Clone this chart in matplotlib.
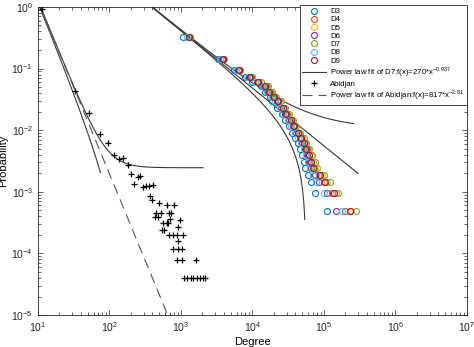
import matplotlib
matplotlib.use("Agg")
import matplotlib.pyplot as plt
import numpy as np

plt.rcParams['font.family'] = ['Liberation Sans', 'DejaVu Sans']
plt.rcParams['mathtext.fontset'] = 'custom'
plt.rcParams['mathtext.rm'] = 'Liberation Sans'

# shared probability levels of the D-series
prob_d = [0.33, 0.145, 0.095, 0.073, 0.060, 0.052, 0.042, 0.035, 0.030, 0.023,
          0.018, 0.0145, 0.0115, 0.009, 0.0075, 0.0062, 0.0050, 0.0040, 0.0031,
          0.0024, 0.00187, 0.00146, 0.00097, 0.00049]

deg_d3 = [1060, 3350, 5600, 8000, 10000, 13000, 15000, 17500, 18800, 22000, 26000, 29000,
          33000, 36000, 40000, 44000, 47000, 50000, 52000, 55000, 60000, 65000, 76000, 110000]
deg_d4 = [1350, 3900, 6500, 9500, 12000, 15500, 17500, 20000, 23000, 27000, 30000, 35000,
          39000, 43000, 48000, 53000, 58000, 62000, 66000, 72000, 85000, 100000, 130000, 200000]
deg_d5 = [1300, 3800, 6700, 9800, 12500, 16000, 18000, 21000, 24000, 28000, 31000, 36000,
          40000, 45000, 50000, 55000, 60000, 65000, 70000, 76000, 95000, 110000, 150000, 240000]
deg_d6 = [1280, 3700, 6200, 9000, 11500, 14500, 16500, 19500, 22000, 25500, 28500, 33000,
          37000, 41000, 46000, 50000, 54000, 58000, 62000, 66000, 75000, 85000, 110000, 150000]
deg_d7 = [1320, 4000, 6800, 10000, 13000, 16500, 18500, 21500, 25000, 29000, 32000, 37000,
          41000, 46000, 52000, 57000, 62000, 68000, 74000, 80000, 100000, 120000, 160000, 280000]
deg_d8 = [1200, 3500, 5900, 8500, 10800, 14000, 15800, 18500, 20500, 24000, 27000, 31000,
          35000, 39000, 44000, 48000, 52000, 56000, 60000, 64000, 70000, 78000, 100000, 180000]
deg_d9 = [1300, 3900, 6400, 9400, 11800, 15200, 17000, 20000, 22500, 26500, 29500, 34500,
          38000, 43000, 48000, 52000, 57000, 61000, 66000, 71000, 88000, 105000, 140000, 230000]

series_names = ['D3', 'D4', 'D5', 'D6', 'D7', 'D8', 'D9']
series_deg = [deg_d3, deg_d4, deg_d5, deg_d6, deg_d7, deg_d8, deg_d9]
series_colors = ['#0072BD', '#D95319', '#EDB120', '#7E2F8E', '#77AC30', '#4DBEEE', '#A2142F']

# Abidjan degree distribution
abidjan_deg = [11.5, 33, 52, 74, 95, 117, 137, 157, 180, 200, 221, 249, 268, 292, 326, 362,
               412, 371, 391, 500, 634, 811, 450, 528, 690, 720, 436, 484, 706, 975,
               557, 634, 668, 540, 580, 923, 690, 786, 877, 1084, 923, 786, 904, 1030,
               877, 1030, 1634, 1110, 1234, 1376, 1496, 1667, 1858, 2027, 2184]
abidjan_prob = [0.92, 0.044, 0.0188, 0.0087, 0.0063, 0.0040, 0.0034, 0.0035, 0.0027, 0.00195,
                0.00134, 0.00172, 0.0018, 0.00118, 0.00122, 0.00124, 0.00129, 0.000855,
                0.000736, 0.00066, 0.00062, 0.00062, 0.000458, 0.000447, 0.000447, 0.000447,
                0.00039, 0.00039, 0.00036, 0.00035, 0.00031, 0.00031, 0.00031, 0.00024,
                0.00024, 0.00027, 0.000196, 0.000196, 0.000196, 0.000196, 0.000158,
                0.000116, 0.000116, 0.000116, 0.0000782, 0.0000782, 0.0000782,
                0.0000394, 0.0000394, 0.0000394, 0.0000394, 0.0000394, 0.0000394,
                0.0000394, 0.0000394]

# fit parameters
d7_a, d7_b = 270, 0.937
ab_a, ab_b = 817, 2.81

fig = plt.figure(figsize=(4.74, 3.47), dpi=100)
ax = fig.add_axes([0.080, 0.092, 0.905, 0.888])

line_col = '#3a3a3a'

# right side fits
x = np.logspace(np.log10(395), np.log10(3.0e5), 300)
ax.plot(x, d7_a * x ** -d7_b, '-', color=line_col, lw=0.8, zorder=1)
x2 = np.logspace(np.log10(395), np.log10(2.6e5), 300)
ax.plot(x2, d7_a * x2 ** -d7_b + 0.0105, '-', color=line_col, lw=0.8, zorder=1)
x3 = np.logspace(np.log10(395), np.log10(54000), 300)
ax.plot(x3, d7_a * x3 ** -d7_b * (1 - x3 / 56000), '-', color=line_col, lw=0.8, zorder=1)

# left side fits
x4 = np.logspace(np.log10(10.7), np.log10(2040), 300)
ax.plot(x4, ab_a * x4 ** -ab_b + 0.00246, '-', color=line_col, lw=0.8, zorder=1)
x5 = np.logspace(np.log10(10.7), np.log10(75), 200)
ax.plot(x5, ab_a * x5 ** -ab_b * (1 - x5 / 140), '-', color=line_col, lw=0.8, zorder=1)

for name, deg, col in zip(series_names, series_deg, series_colors):
    ax.plot(deg, prob_d, 'o', mfc='none', mec=col, ms=4.3, mew=0.8, label=name, zorder=3)

ax.plot([], [], '-', color=line_col, lw=0.8,
        label='Power law fit of D7:f(x)=270*x$^{-0.937}$')
ax.plot(abidjan_deg, abidjan_prob, '+', color='black', ms=4.8, mew=0.9,
        label='Abidjan', zorder=3)
xd = np.logspace(np.log10(10.7), np.log10(700), 200)
ax.plot(xd, ab_a * xd ** -ab_b, '--', color='#555555', lw=0.8, dashes=(9, 5.5),
        label='Power law fit of Abidjan:f(x)=817*x$^{-2.81}$', zorder=1)

ax.set_xscale('log')
ax.set_yscale('log')
ax.set_xlim(10, 1e7)
ax.set_ylim(1e-5, 1)
ax.set_xticks([1e1, 1e2, 1e3, 1e4, 1e5, 1e6, 1e7])
ax.set_yticks([1e-5, 1e-4, 1e-3, 1e-2, 1e-1, 1e0])
ax.tick_params(which='both', direction='in', top=True, right=True,
               labelsize=7.5, colors='#262626', width=0.5)
ax.tick_params(which='major', length=3.5)
ax.tick_params(which='minor', length=2)
for s in ax.spines.values():
    s.set_linewidth(0.6)
    s.set_color('#262626')

ax.set_xlabel('Degree', fontsize=8, labelpad=2)
ax.set_ylabel('Probability', fontsize=8, labelpad=2)

leg = ax.legend(loc='upper right', bbox_to_anchor=(1.0, 1.006), fontsize=5.6,
                fancybox=False, framealpha=1, edgecolor='#262626',
                borderaxespad=0, labelspacing=0.1, handlelength=3.0,
                handletextpad=0.6, borderpad=0.35)
leg.get_frame().set_linewidth(0.6)

fig.savefig('out.png', dpi=100)
